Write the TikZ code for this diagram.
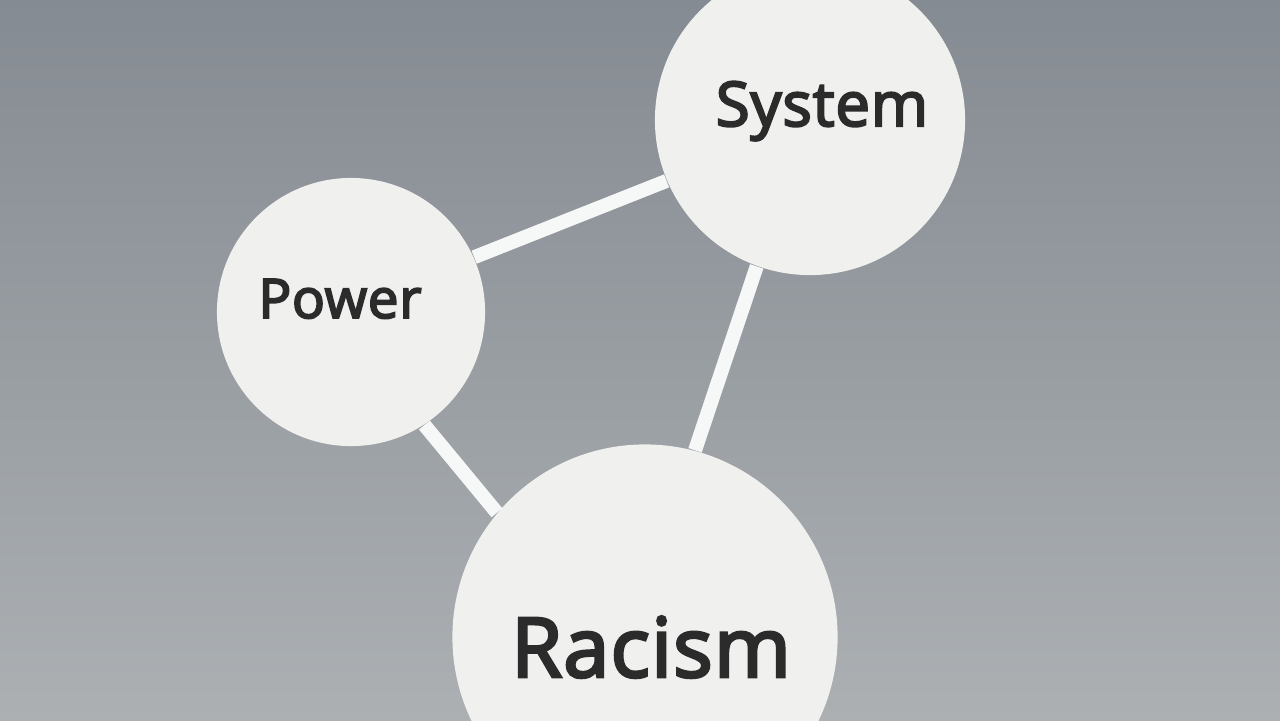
\documentclass[tikz,border=0pt]{standalone}
\usepackage{fontspec}
\setmainfont{Open Sans}
\newfontfamily\bubblefont{Open Sans}[FakeBold=3.5, LetterSpace=1.5]
\definecolor{bgtop}{RGB}{133,139,146}
\definecolor{bgbot}{RGB}{172,176,179}
\definecolor{disc}{RGB}{240,240,238}
\definecolor{link}{RGB}{246,247,247}
\definecolor{ink}{RGB}{43,43,43}
\newcommand{\bubble}[1]{\bubblefont\fontsize{#1}{#1}\selectfont}

\begin{document}
\begin{tikzpicture}[x=0.01cm, y=-0.01cm,
  concept/.style={circle, fill=disc, inner sep=0pt},
  word/.style={text=ink, anchor=base, inner sep=0pt},
  tie/.style={draw=link, line width=0.14cm}]
%\draw [help lines] (0,0) grid (1280,720);
\useasboundingbox (0,0) rectangle (1280,720);
\shade[top color=bgtop, bottom color=bgbot] (0,0) rectangle (1280,720);

\node[concept, minimum size=3.1cm]     (system) at (810,120) {};
\node[concept, minimum size=2.68cm]    (power)  at (351,312) {};
\node[concept, minimum size=3.85cm]    (racism) at (645,637) {};

\node[word, font=\bubble{17.5pt}]      (systemtext) at (822,126) {System};
\node[word, font=\bubble{15.5pt}]      (powertext)  at (340,318) {Power};
\node[word, font=\bubble{23.5pt}]      (racismtext) at (651,677) {Racism};

% Edges
\draw[tie] (power.24)    -- (system.-157);
\draw[tie] (system.-110) -- (racism.75);
\draw[tie] (power.-57)   -- (racism.140);
\end{tikzpicture}
\end{document}
